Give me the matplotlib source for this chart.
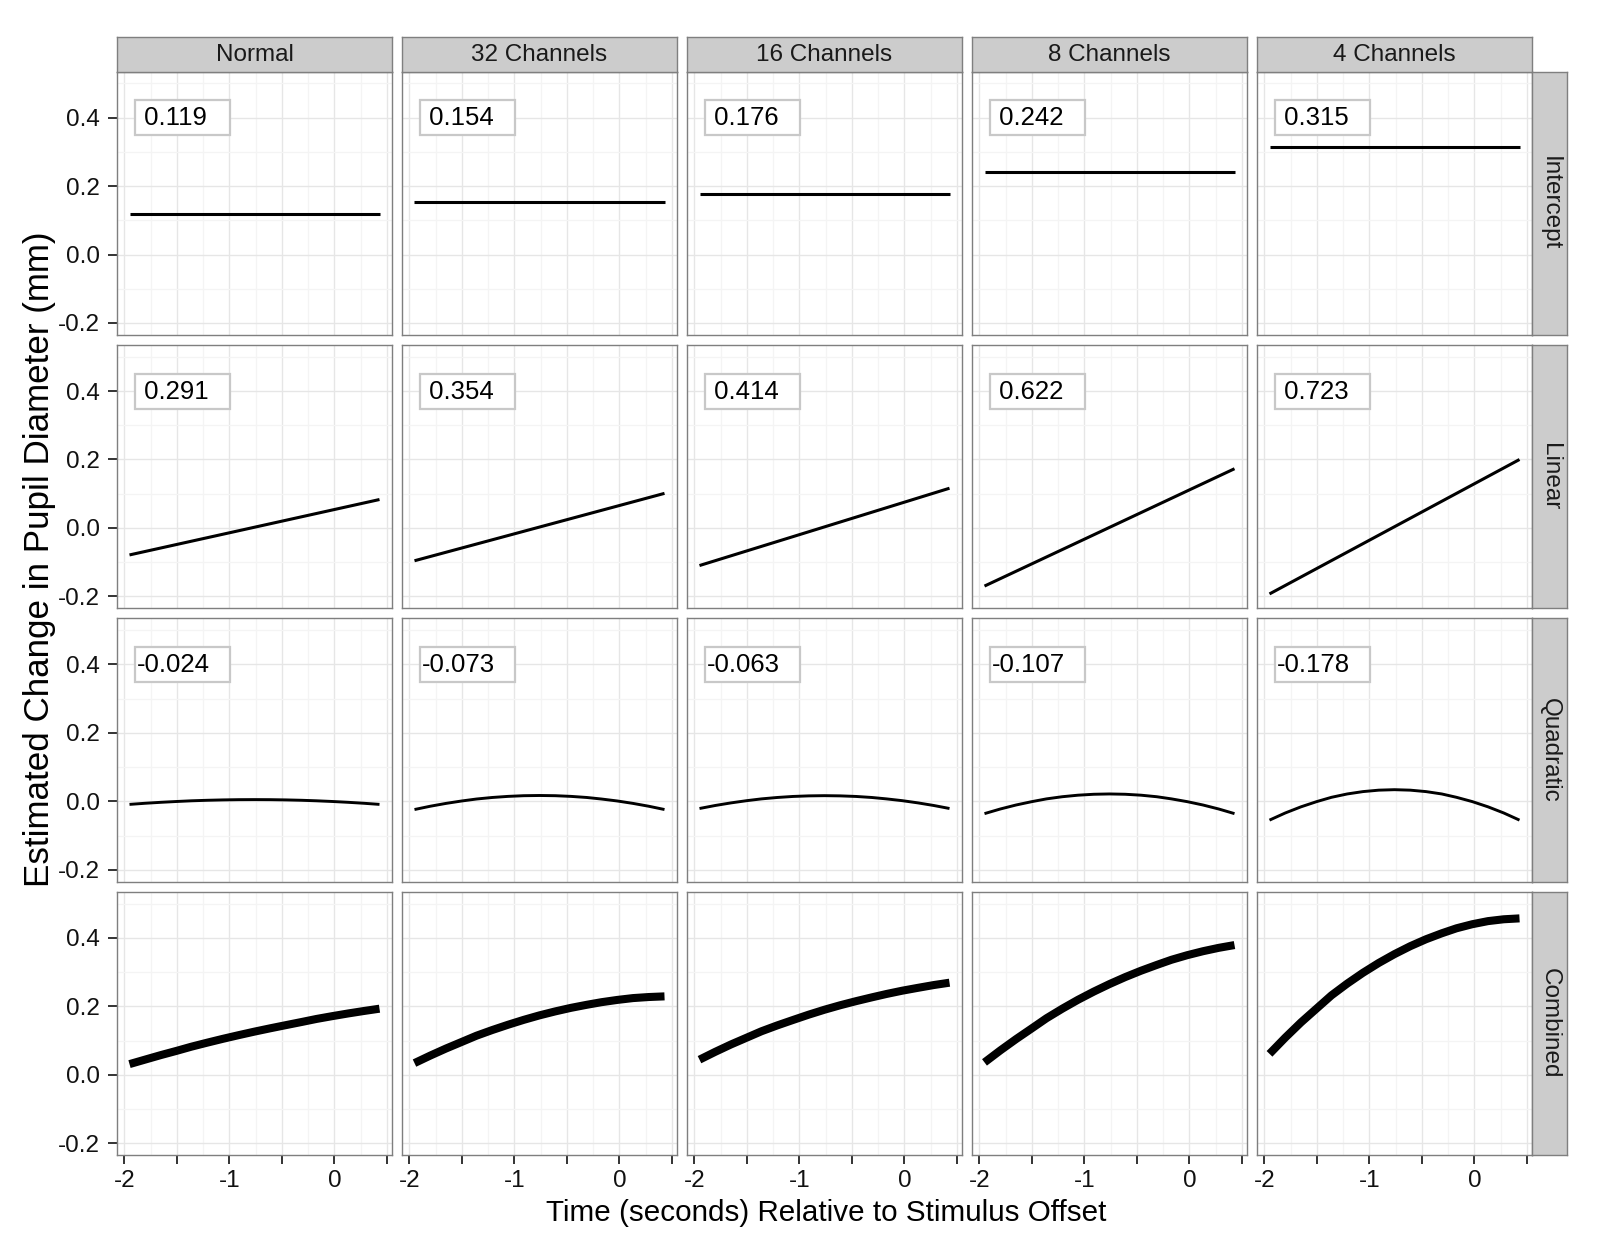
import matplotlib
matplotlib.use("Agg")
import matplotlib.pyplot as plt
from matplotlib.patches import Rectangle

plt.rcParams['font.family'] = ['Liberation Sans', 'DejaVu Sans']

# ---------------- data ----------------
conditions = ["Normal", "32 Channels", "16 Channels", "8 Channels", "4 Channels"]
terms = ["Intercept", "Linear", "Quadratic", "Combined"]

time_pts = [-1.95, -1.80, -1.65, -1.50, -1.36, -1.21, -1.06, -0.91, -0.76,
            -0.61, -0.46, -0.31, -0.17, -0.02, 0.13, 0.28, 0.43]
time_ends = [-1.95, 0.43]

intercept_coef = [0.119, 0.154, 0.176, 0.242, 0.315]
linear_coef = [0.291, 0.354, 0.414, 0.622, 0.723]
quad_coef = [-0.024, -0.073, -0.063, -0.107, -0.178]

linear_start = [-0.079, -0.096, -0.110, -0.170, -0.193]
linear_end = [0.083, 0.101, 0.116, 0.173, 0.200]

quad_normal = [-0.009, -0.0057, -0.0029, -0.0005, 0.0015, 0.003, 0.0041, 0.0048, 0.005,
               0.0048, 0.0041, 0.003, 0.0015, -0.0005, -0.0029, -0.0057, -0.009]
quad_32 = [-0.024, -0.0144, -0.0061, 0.001, 0.0067, 0.0112, 0.0144, 0.0164, 0.017,
           0.0164, 0.0144, 0.0112, 0.0067, 0.001, -0.0061, -0.0144, -0.024]
quad_16 = [-0.021, -0.0122, -0.0046, 0.0019, 0.0071, 0.0112, 0.0142, 0.0159, 0.0165,
           0.0159, 0.0142, 0.0112, 0.0071, 0.0019, -0.0046, -0.0122, -0.021]
quad_8 = [-0.036, -0.0225, -0.0108, -0.001, 0.0071, 0.0134, 0.0179, 0.0206, 0.0215,
          0.0206, 0.0179, 0.0134, 0.0071, -0.001, -0.0108, -0.0225, -0.036]
quad_4 = [-0.055, -0.0341, -0.0161, -0.0008, 0.0117, 0.0215, 0.0284, 0.0326, 0.034,
          0.0326, 0.0284, 0.0215, 0.0117, -0.0008, -0.0161, -0.0341, -0.055]

comb_normal = [0.031, 0.0443, 0.0575, 0.0699, 0.082, 0.0937, 0.105, 0.1157, 0.126,
               0.1357, 0.145, 0.1542, 0.163, 0.1712, 0.179, 0.1862, 0.193]
comb_32 = [0.034, 0.0559, 0.0766, 0.0959, 0.114, 0.1306, 0.146, 0.1604, 0.1735,
           0.1851, 0.1955, 0.2044, 0.212, 0.2186, 0.224, 0.2271, 0.229]
comb_16 = [0.044, 0.0669, 0.0885, 0.1084, 0.127, 0.1441, 0.160, 0.1756, 0.190,
           0.2031, 0.215, 0.2261, 0.236, 0.2456, 0.254, 0.2621, 0.269]
comb_8 = [0.036, 0.0709, 0.104, 0.1354, 0.165, 0.1929, 0.219, 0.2429, 0.265,
          0.2854, 0.304, 0.3209, 0.336, 0.3494, 0.361, 0.3709, 0.379]
comb_4 = [0.061, 0.1084, 0.153, 0.1939, 0.232, 0.2664, 0.298, 0.3267, 0.3525,
          0.3757, 0.396, 0.4134, 0.428, 0.4399, 0.449, 0.4544, 0.457]

x_ticks = [-2.0, -1.5, -1.0, -0.5, 0.0, 0.5]
x_tick_labels = ["-2", "", "-1", "", "0", ""]
y_ticks = [-0.2, 0.0, 0.2, 0.4]
y_tick_labels = ["-0.2", "0.0", "0.2", "0.4"]

quad_curves = [quad_normal, quad_32, quad_16, quad_8, quad_4]
comb_curves = [comb_normal, comb_32, comb_16, comb_8, comb_4]
coef_rows = [intercept_coef, linear_coef, quad_coef]

# ---------------- layout (pixels) ----------------
W, H = 1600, 1245
fig = plt.figure(figsize=(W / 100, H / 100), dpi=100)
fig.patch.set_facecolor("white")

X0, PW, GX = 117, 275, 10
Y0, PH, GY = 71.5, 263.4, 10
STRIP = 35

def fig_rect(x, y, w, h):
    return [x / W, 1 - (y + h) / H, w / W, h / H]

EDGE = "#7F7F7F"
tmin, tmax = min(time_pts), max(time_pts)
xpad = 0.05 * (tmax - tmin)
xlim = (tmin - xpad, tmax + xpad)
ylim = (-0.2 - 0.035, 0.5 + 0.035)
x_minor = [-1.75, -1.25, -0.75, -0.25, 0.25]
y_minor = [-0.1, 0.1, 0.3, 0.5]

for r, term in enumerate(terms):
    for c, cond in enumerate(conditions):
        px = X0 + c * (PW + GX)
        py = Y0 + r * (PH + GY)
        ax = fig.add_axes(fig_rect(px, py, PW, PH))
        ax.set_xlim(*xlim)
        ax.set_ylim(*ylim)
        ax.set_xticks(x_ticks)
        ax.set_yticks(y_ticks)
        ax.set_xticks(x_minor, minor=True)
        ax.set_yticks(y_minor, minor=True)
        ax.grid(which="major", color="#E6E6E6", lw=1.0, zorder=0)
        ax.grid(which="minor", color="#F4F4F4", lw=0.9, zorder=0)
        ax.set_axisbelow(True)
        ax.tick_params(which="minor", length=0)
        ax.tick_params(which="major", direction="out", length=6.5, width=1.4,
                       color="#333333", labelsize=17.5, labelcolor="#111111")
        if c == 0:
            ax.set_yticklabels(y_tick_labels)
            ax.tick_params(axis="y", pad=5.5)
        else:
            ax.tick_params(axis="y", length=0, labelleft=False)
        if r == len(terms) - 1:
            ax.set_xticklabels(x_tick_labels)
            ax.tick_params(axis="x", pad=4.5)
        else:
            ax.tick_params(axis="x", length=0, labelbottom=False)
        for s in ax.spines.values():
            s.set_color(EDGE)
            s.set_linewidth(1.0)

        if term == "Intercept":
            ax.plot(time_ends, [intercept_coef[c]] * 2, color="black", lw=2.2,
                    solid_capstyle="butt")
        elif term == "Linear":
            ax.plot(time_ends, [linear_start[c], linear_end[c]], color="black",
                    lw=2.2, solid_capstyle="butt")
        elif term == "Quadratic":
            ax.plot(time_pts, quad_curves[c], color="black", lw=2.1,
                    solid_capstyle="butt", solid_joinstyle="round")
        else:
            ax.plot(time_pts, comb_curves[c], color="black", lw=5.8,
                    solid_capstyle="butt", solid_joinstyle="round")

        if r < 3:
            val = coef_rows[r][c]
            ax.add_patch(Rectangle((-1.90, 0.349), 0.91, 0.102, facecolor="white",
                                   edgecolor="#C8C8C8", lw=1.6, zorder=5))
            ax.text(-1.88, 0.378, f"{val:6.3f}", fontsize=18.5, ha="left",
                    va="baseline", color="black", zorder=6)

        # top strips
        if r == 0:
            sax = fig.add_axes(fig_rect(px, py - STRIP, PW, STRIP))
            sax.set_facecolor("#CCCCCC")
            sax.set_xticks([]); sax.set_yticks([])
            for s in sax.spines.values():
                s.set_color(EDGE); s.set_linewidth(1.0)
            sax.text(0.5, 0.47, cond, ha="center", va="center", fontsize=17.5,
                     color="#1A1A1A", transform=sax.transAxes)
        # right strips
        if c == len(conditions) - 1:
            rax = fig.add_axes(fig_rect(px + PW, py, STRIP, PH))
            rax.set_facecolor("#CCCCCC")
            rax.set_xticks([]); rax.set_yticks([])
            for s in rax.spines.values():
                s.set_color(EDGE); s.set_linewidth(1.0)
            rax.text(0.5, 0.5, term, ha="center", va="center", fontsize=17.5,
                     rotation=-90, color="#1A1A1A", transform=rax.transAxes)

fig.text(826 / W, 1 - 1213 / H, "Time (seconds) Relative to Stimulus Offset",
         ha="center", va="center", fontsize=21.3, color="black")
fig.text(40 / W, 1 - 559 / H, "Estimated Change in Pupil Diameter (mm)",
         ha="center", va="center", rotation=90, fontsize=25.2, color="black")

fig.savefig("out.png", dpi=100, facecolor="white")
